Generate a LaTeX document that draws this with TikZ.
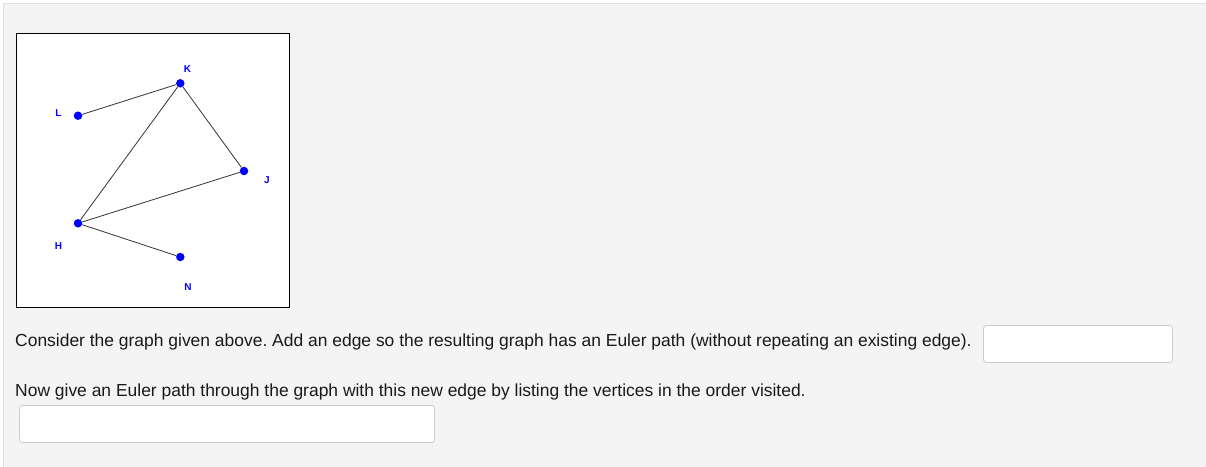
\documentclass[tikz,border=0pt]{standalone}
\usepackage{fontspec}
\setmainfont{Liberation Sans}
\frenchspacing
\begin{document}
\begin{tikzpicture}[x=1pt,y=-1pt,
  vtx/.style={circle,fill=vblue,inner sep=0pt,minimum size=8.5pt},
  vlabel/.style={text=vblue,font=\fontsize{10}{11}\selectfont\bfseries,inner sep=0pt},
  edge/.style={draw=black!80,line width=0.8pt},
  qtext/.style={anchor=west,inner sep=0pt,font=\fontsize{17.45}{20}\selectfont,text=black!90},
  ansbox/.style={draw=black!20,fill=white,rounded corners=3pt,line width=0.8pt}]
\definecolor{vblue}{RGB}{0,0,255}
\useasboundingbox (0,0) rectangle (1206,466);
\fill[white] (0,0) rectangle (1206,466);
\filldraw[fill=black!4.5,draw=black!12,line width=0.8pt] (3,3) rectangle (1210,470);
% graph frame
\draw[fill=white,line width=0.9pt] (16,33.5) rectangle (289.5,307);
% vertices
\node[vtx] (K) at (180.3,83.3) {};
\node[vtx] (L) at (78,115.7) {};
\node[vtx] (J) at (244,171) {};
\node[vtx] (H) at (78,223.3) {};
\node[vtx] (N) at (180.3,257) {};
\node[vlabel] (lK) at (187.5,69.5) {K};
\node[vlabel] (lL) at (58.5,113) {L};
\node[vlabel] (lJ) at (267,180) {J};
\node[vlabel] (lH) at (58.5,246) {H};
\node[vlabel] (lN) at (188,287.5) {N};
% edges
\draw[edge] (L) -- (K);
\draw[edge] (K) -- (J);
\draw[edge] (K) -- (H);
\draw[edge] (J) -- (H);
\draw[edge] (H) -- (N);
% text
\node[qtext] (q1) at (15,342) {Consider the graph given above. Add an edge so the resulting graph has an Euler path (without repeating an existing edge).};
\draw[ansbox] (983.5,325.5) rectangle (1172.5,362.5);
\node[qtext] (q2) at (15,392) {Now give an Euler path through the graph with this new edge by listing the vertices in the order visited.};
\draw[ansbox] (19.5,405.5) rectangle (434.5,442.5);
\end{tikzpicture}
\end{document}
